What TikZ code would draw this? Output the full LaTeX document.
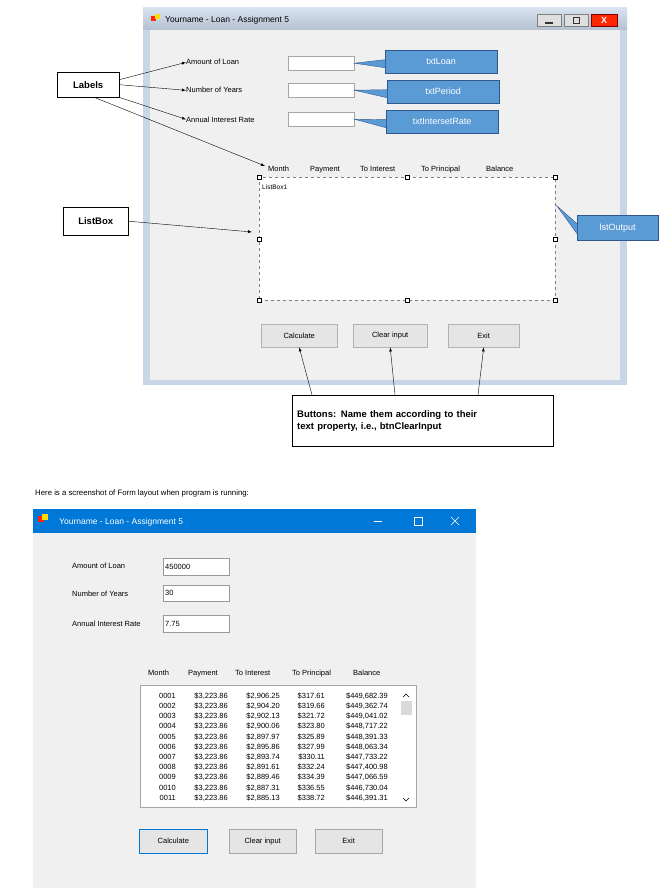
\documentclass[tikz,border=0pt]{standalone}
\usepackage{fontspec}
\setmainfont{Liberation Sans}
\definecolor{cfill}{RGB}{91,155,213}
\definecolor{cdraw}{RGB}{49,88,140}
\definecolor{frm}{RGB}{200,214,232}
\definecolor{winblue}{RGB}{0,120,215}
\definecolor{bg}{RGB}{240,240,240}
\begin{document}
\begin{tikzpicture}[x=1pt,y=-1pt,
  lbl/.style={anchor=base west,font=\fontsize{7.5}{8}\selectfont,inner sep=0},
  tbox/.style={draw=gray!70,fill=white,minimum width=66pt,minimum height=14pt,inner sep=2pt,anchor=north west},
  callout/.style={draw=cdraw,fill=cfill,text=white,font=\fontsize{9}{10}\selectfont,anchor=north west,inner sep=0},
  note/.style={draw=black,fill=white,font=\bfseries\fontsize{9.5}{12}\selectfont,anchor=north west,inner sep=0},
  btn/.style={draw=gray!60,fill=gray!20,font=\fontsize{7.5}{8}\selectfont,anchor=north west,inner sep=0},
  arr/.style={-latex,black,thin},
  row/.style={anchor=base east,font=\fontsize{7.5}{8}\selectfont,inner sep=0}]
\useasboundingbox (0,0) rectangle (658,888);
\fill[white] (0,0) rectangle (658,888);
% ===== top window
\fill[frm] (143,8) rectangle (627,385);
\shade[top color=frm!70,bottom color=frm!90!black] (143,8) rectangle (627,30);
\fill[bg] (150,30) rectangle (620,380);
\fill[red!70!orange] (151,16) rectangle (156,21); \fill[yellow!80!orange] (155,14) rectangle (160,19);
\node[lbl,font=\fontsize{8.5}{9}\selectfont] (t1) at (165,23) {Yourname - Loan - Assignment 5};
\node[draw=gray,fill=gray!25,minimum width=24pt,minimum height=12pt,inner sep=0] (mn) at (549,20) {};
\draw[gray!40!black,line width=1.2pt] (545,23) -- (553,23);
\node[draw=gray,fill=gray!25,minimum width=24pt,minimum height=12pt,inner sep=0] (mx) at (576,20) {};
\draw[gray!40!black] (573,17) rectangle (579,23);
\node[draw=red!50!black,fill=red!70!orange,text=white,minimum width=26pt,minimum height=12pt,inner sep=0] (cl) at (604,20) {\bfseries\small X};
\node[lbl] (l1) at (186,65) {Amount of Loan};
\node[lbl] (l2) at (186,93) {Number of Years};
\node[lbl] (l3) at (186,122) {Annual Interest Rate};
\node[tbox] (b1) at (288,56) {};
\node[tbox] (b2) at (288,83) {};
\node[tbox] (b3) at (288,112) {};
\node[callout,minimum width=112pt,minimum height=23pt] (c1) at (385,50) {txtLoan};
\node[callout,minimum width=112pt,minimum height=23pt] (c2) at (387,80) {txtPeriod};
\node[callout,minimum width=112pt,minimum height=23pt] (c3) at (386,110) {txtIntersetRate};
\foreach \c/\b in {c1/b1,c2/b2,c3/b3}{
  \fill[cfill] (\b.east) -- ([yshift=-6pt]\c.west) -- ([yshift=2pt]\c.west) -- cycle;
  \draw[cdraw] ([yshift=-6pt]\c.west) -- (\b.east) -- ([yshift=2pt]\c.west);}
\foreach \x/\t in {268/Month,310/Payment,360/To Interest,421/To Principal,486/Balance}
  \node[lbl] at (\x,171) {\t};
\node[draw=gray,dashed,fill=white,minimum width=296pt,minimum height=123pt,anchor=north west,inner sep=0] (lb) at (259,177) {};
\node[lbl,font=\fontsize{6.5}{7}\selectfont] (lbt) at (262,189) {ListBox1};
\foreach \p in {north west,north,north east,west,east,south west,south,south east}
  \draw[fill=white] ([xshift=-2pt,yshift=-2pt]lb.\p) rectangle ([xshift=2pt,yshift=2pt]lb.\p);
\node[btn,minimum width=76pt,minimum height=23pt] (bc) at (261,324) {Calculate};
\node[btn,minimum width=74pt,minimum height=23pt] (bi) at (353,324) {Clear input};
\node[btn,minimum width=71pt,minimum height=23pt] (be) at (448,324) {Exit};
% annotations
\node[note,minimum width=62pt,minimum height=25pt] (nl) at (57,72) {Labels};
\draw[arr] (nl.east) ++(0,-5) -- (l1.west);
\draw[arr] (nl.east) -- (l2.west);
\draw[arr] (nl.south east) -- (l3.west);
\draw[arr] ([xshift=-25pt]nl.south east) -- (265,166);
\node[note,minimum width=65pt,minimum height=28pt] (nlb) at (63,207) {ListBox};
\draw[arr] (nlb.east) -- (252,232);
\node[callout,minimum width=81pt,minimum height=25pt,anchor=north west] (co) at (577,215) {lstOutput};
\fill[cfill] (557,206) -- ([yshift=-6pt]co.west) -- ([yshift=4pt]co.west) -- cycle;
\draw[cdraw] ([yshift=-6pt]co.west) -- (557,206) -- ([yshift=4pt]co.west);
\node[note,minimum width=261pt,minimum height=51pt,align=left,text width=251pt] (nb) at (292,395) {Buttons: Name them according to their\\text property, i.e., btnClearInput};
\draw[arr] (312,395) -- (bc.south);
\draw[arr] (395,395) -- (bi.south);
\draw[arr] (478,395) -- (be.south);
% ===== caption
\node[lbl,font=\fontsize{7.8}{9}\selectfont] (cap) at (35,495) {Here is a screenshot of Form layout when program is running:};
% ===== second window
\fill[bg] (33,509) rectangle (476,888);
\fill[winblue] (33,509) rectangle (476,533);
\fill[red!70!orange] (38,516) rectangle (44,522); \fill[yellow!80!orange] (42,514) rectangle (48,520);
\node[lbl,text=white,font=\fontsize{8.5}{9}\selectfont] (t2) at (59,524) {Yourname - Loan - Assignment 5};
\draw[white] (374,521) -- (382,521);
\draw[white] (414,517) rectangle (422,525);
\draw[white] (451,517) -- (459,525) (451,525) -- (459,517);
\node[lbl] (k1) at (72,568) {Amount of Loan};
\node[lbl] (k2) at (72,596) {Number of Years};
\node[lbl] (k3) at (72,626) {Annual Interest Rate};
\node[tbox,draw=gray!80,minimum height=17pt,text width=62pt,font=\fontsize{7.5}{8}\selectfont] (e1) at (163,558) {450000};
\node[tbox,draw=gray!80,minimum height=16pt,text width=62pt,font=\fontsize{7.5}{8}\selectfont] (e2) at (163,585) {30};
\node[tbox,draw=gray!80,minimum height=17pt,text width=62pt,font=\fontsize{7.5}{8}\selectfont] (e3) at (163,615) {7.75};
\foreach \x/\t in {148/Month,188/Payment,235/To Interest,292/To Principal,353/Balance}
  \node[lbl] at (\x,675) {\t};
\node[draw=gray!70,fill=white,minimum width=276pt,minimum height=122pt,anchor=north west,inner sep=0] (lb2) at (140,685) {};
\fill[gray!30] (401,701) rectangle (412,715);
\draw (403,697) -- (406,694) -- (409,697);
\draw (403,798) -- (406,801) -- (409,798);
\foreach [count=\i] \a/\b/\c/\d in {
 2{,}906.25/317.61/449{,}682.39/0001,2{,}904.20/319.66/449{,}362.74/0002,
 2{,}902.13/321.72/449{,}041.02/0003,2{,}900.06/323.80/448{,}717.22/0004,
 2{,}897.97/325.89/448{,}391.33/0005,2{,}895.86/327.99/448{,}063.34/0006,
 2{,}893.74/330.11/447{,}733.22/0007,2{,}891.61/332.24/447{,}400.98/0008,
 2{,}889.46/334.39/447{,}066.59/0009,2{,}887.31/336.55/446{,}730.04/0010,
 2{,}885.13/338.72/446{,}391.31/0011}{
 \pgfmathsetmacro\yy{688+10.2*\i}
 \node[row] at (176,\yy) {\d};
 \node[row] at (228,\yy) {\$3,223.86};
 \node[row] at (280,\yy) {\$\a};
 \node[row] at (325,\yy) {\$\b};
 \node[row] at (388,\yy) {\$\c};}
\node[btn,draw=winblue,semithick,fill=gray!20,minimum width=68pt,minimum height=24pt] (d1) at (139,829) {Calculate};
\node[btn,draw=gray!70,minimum width=67pt,minimum height=24pt] (d2) at (229,829) {Clear input};
\node[btn,draw=gray!70,minimum width=67pt,minimum height=24pt] (d3) at (315,829) {Exit};
\end{tikzpicture}
\end{document}
